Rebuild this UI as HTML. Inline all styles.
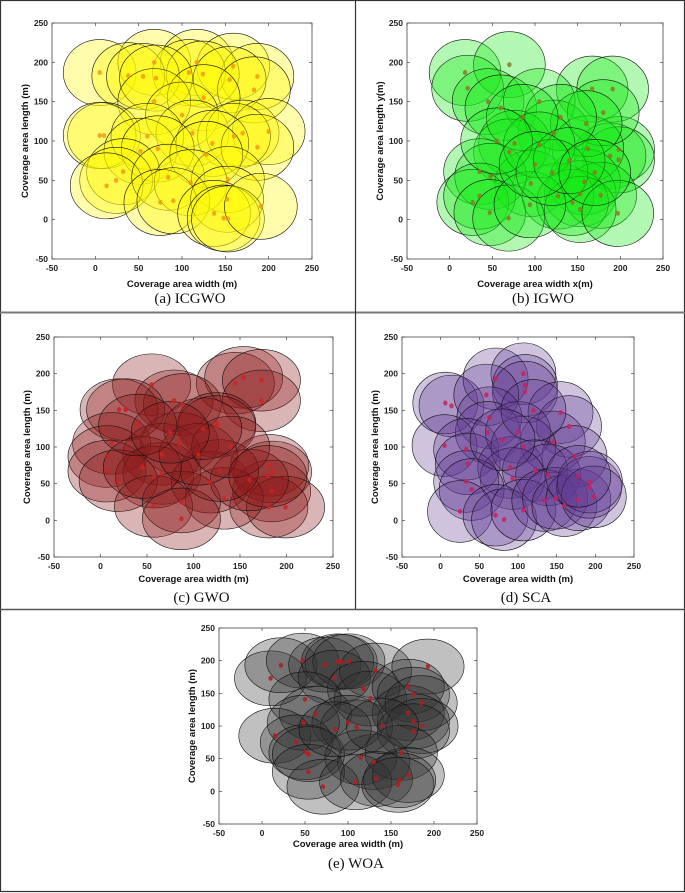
<!DOCTYPE html>
<html><head><meta charset="utf-8"><style>
html,body{margin:0;padding:0;background:#fff;}
svg{display:block;}
.tk{font:bold 8.5px "Liberation Sans",sans-serif;fill:#222;}
.al{font:bold 9.5px "Liberation Sans",sans-serif;fill:#111;}
.cap{font:15px "Liberation Serif",serif;fill:#111;}
</style></head><body>
<svg id="fig" width="685" height="893" viewBox="0 0 685 893" xmlns="http://www.w3.org/2000/svg">
<rect x="0.5" y="0.5" width="684" height="891" fill="none" stroke="#333" stroke-width="1.2"/>
<line x1="0" y1="312.5" x2="685" y2="312.5" stroke="#777" stroke-width="2"/>
<line x1="0" y1="609.5" x2="685" y2="609.5" stroke="#555" stroke-width="1.5"/>
<line x1="355.5" y1="0" x2="355.5" y2="609" stroke="#333" stroke-width="1.2"/>
</svg>
<script>
const radius = 42;
const ticks = [-50,0,50,100,150,200,250];
const aX=[5,68,117,159,187,108,124,38,55,70,155,183,125,68,100,112,170,200,160,10,5,60,135,187,52,72,128,32,24,13,84,153,110,75,90,152,137,148,153,191];
const aY=[187,200,200,195,182,187,185,183,182,180,178,165,155,150,133,110,110,112,106,107,107,106,97,92,87,90,83,61,50,43,54,51,47,22,24,26,8,2,1,17];
const bX=[18,70,21,167,191,45,60,105,122,76,70,35,95,48,198,188,198,162,180,158,153,177,127,144,153,27,35,47,69,94,197,160,130,105,85,55,120,140,100,170];
const bY=[187,197,167,166,166,150,142,150,110,97,86,61,46,55,89,81,76,90,136,48,33,31,30,22,13,22,30,9,2,19,8,122,130,95,130,100,60,75,70,60];
const cX=[145,154,173,173,55,79,88,20,27,125,125,12,85,7,66,7,66,58,19,118,182,185,184,181,199,133,57,87,87,160,128,45,105,140,110,40,180,75];
const cY=[187,195,191,163,185,163,158,151,151,132,128,105,105,87,90,67,64,59,54,52,75,66,40,18,18,30,19,25,2,55,68,72,90,100,125,130,60,120];
const dX=[6,14,71,107,109,109,59,63,61,5,33,35,90,155,166,145,173,100,107,122,139,93,33,40,25,71,82,107,134,148,160,178,192,193,198,178,120,80];
const dY=[160,156,193,200,184,175,171,140,120,102,97,77,72,147,128,107,87,120,100,68,62,57,53,42,12,7,1,14,27,30,20,28,45,52,32,60,150,110];
const eX=[10,22,47,73,88,92,101,84,132,118,126,50,193,170,176,170,185,62,100,110,48,176,186,176,15,40,50,54,115,130,162,54,71,109,133,170,160,158,85,140];
const eY=[173,193,200,194,199,198,199,174,185,157,142,141,191,160,148,120,135,119,105,98,105,107,100,92,85,75,60,57,52,45,59,30,7,14,19,25,17,10,95,100];

const svg=document.getElementById('fig');
const NS='http://www.w3.org/2000/svg';
function mk(tag,attrs,parent){const e=document.createElementNS(NS,tag);for(const k in attrs)e.setAttribute(k,attrs[k]);parent.appendChild(e);return e;}

const panels=[
 {id:'a',xs:aX,ys:aY,x0:52,x1:312,y0:23,y1:259,xl:287,cy:303,cap:'(a)  ICGWO',ylab:'Coverage area length (m)',xlab:'Coverage area width (m)',fill:'rgba(255,250,0,0.33)',dot:'#f39a10'},
 {id:'b',xs:bX,ys:bY,x0:407,x1:663,y0:23,y1:259,xl:287,cy:303,cap:'(b)  IGWO',ylab:'Coverage area length y(m)',xlab:'Coverage area width x(m)',fill:'rgba(20,235,20,0.33)',dot:'#8a7a20'},
 {id:'c',xs:cX,ys:cY,x0:54,x1:333,y0:337,y1:557,xl:582,cy:602,cap:'(c)  GWO',ylab:'Coverage area length (m)',xlab:'Coverage area width (m)',fill:'rgba(140,25,25,0.32)',dot:'#cc2222'},
 {id:'d',xs:dX,ys:dY,x0:402,x1:634,y0:337,y1:557,xl:582,cy:602,cap:'(d)  SCA',ylab:'Coverage area length (m)',xlab:'Coverage area width (m)',fill:'rgba(95,55,145,0.3)',dot:'#c8215a'},
 {id:'e',xs:eX,ys:eY,x0:219,x1:477,y0:628,y1:824,xl:847,cy:868,cap:'(e)  WOA',ylab:'Coverage area length (m)',xlab:'Coverage area width (m)',fill:'rgba(45,45,45,0.3)',dot:'#b01c1c'}
];
panels.forEach(p=>{
 const g=mk('g',{},svg);
 
 
 const sx=v=>p.x0+(v+50)/300*(p.x1-p.x0);
 const sy=v=>p.y1-(v+50)/300*(p.y1-p.y0);
 const kx=(p.x1-p.x0)/300, ky=(p.y1-p.y0)/300;
 const cl=mk('clipPath',{id:'clip'+p.id},g);
 mk('rect',{x:p.x0,y:p.y0,width:p.x1-p.x0,height:p.y1-p.y0},cl);
 const cg=mk('g',{'clip-path':'url(#clip'+p.id+')'},g);
 p.xs.forEach((x,i)=>{
  const c=mk('ellipse',{cx:sx(x),cy:sy(p.ys[i]),rx:radius*kx,ry:radius*ky,fill:p.fill,stroke:'#111','stroke-width':0.6},cg);
  
  
 });
 p.xs.forEach((x,i)=>{
  const d=mk('ellipse',{cx:sx(x),cy:sy(p.ys[i]),rx:2.2,ry:2.5,fill:p.dot,opacity:0.85},cg);
  
  
 });
 const box=mk('rect',{x:p.x0,y:p.y0,width:p.x1-p.x0,height:p.y1-p.y0,fill:'none',stroke:'#444','stroke-width':0.8},g);
 
 
 ticks.forEach(t=>{
  mk('line',{x1:sx(t),x2:sx(t),y1:p.y1,y2:p.y1-3,stroke:'#444','stroke-width':0.7},g);
  mk('line',{x1:sx(t),x2:sx(t),y1:p.y0,y2:p.y0+3,stroke:'#444','stroke-width':0.7},g);
  mk('line',{x1:p.x0,x2:p.x0+3,y1:sy(t),y2:sy(t),stroke:'#444','stroke-width':0.7},g);
  mk('line',{x1:p.x1,x2:p.x1-3,y1:sy(t),y2:sy(t),stroke:'#444','stroke-width':0.7},g);
  const tx=mk('text',{x:sx(t),y:p.y1+12,'text-anchor':'middle',class:'tk'},g);tx.textContent=t;
  
  
  const ty=mk('text',{x:p.x0-4,y:sy(t)+3,'text-anchor':'end',class:'tk'},g);ty.textContent=t;
  
  
 });
 const xl=mk('text',{x:(p.x0+p.x1)/2,y:p.xl,'text-anchor':'middle',class:'al'},g);xl.textContent=p.xlab;
 
 
 const yc=(p.y0+p.y1)/2, yx=p.x0-24;
 const yl=mk('text',{x:yx,y:yc,'text-anchor':'middle',class:'al',transform:'rotate(-90 '+yx+' '+yc+')'},g);yl.textContent=p.ylab;
 
 
 const cp=mk('text',{x:(p.x0+p.x1)/2+8,y:p.cy,'text-anchor':'middle',class:'cap'},g);cp.textContent=p.cap;
 
 
});
</script>
</body></html>
